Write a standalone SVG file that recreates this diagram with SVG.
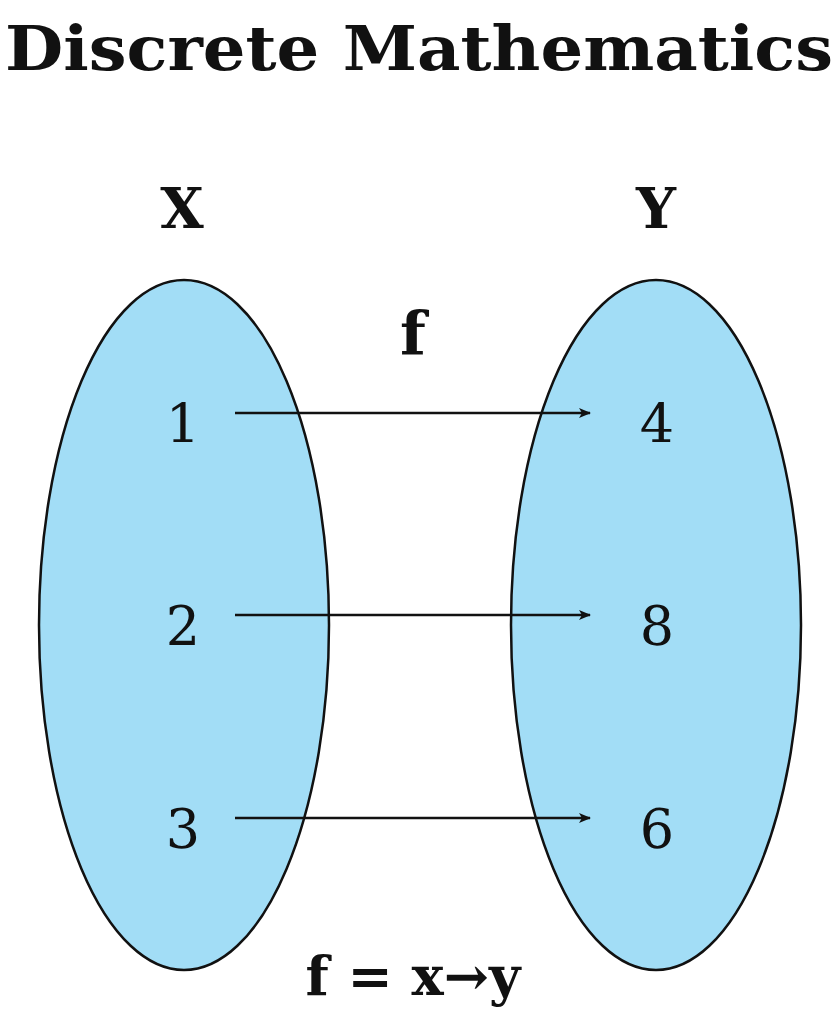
<svg xmlns="http://www.w3.org/2000/svg" width="839" height="1024" viewBox="0 0 839 1024">
<style>
.t{font-family:"DejaVu Serif","Liberation Serif",serif;fill:#111;text-anchor:middle}
.b{font-weight:bold}
.set{fill:#A2DDF6;stroke:#111;stroke-width:2.5}
.c{stroke:#111;stroke-width:2.5;fill:none;marker-end:url(#ah)}
</style>
<defs><marker id="ah" markerWidth="12" markerHeight="10" refX="11" refY="5" orient="auto" markerUnits="userSpaceOnUse" viewBox="0 0 12 10"><path d="M0,0 L12,5 L0,10 L3,5 Z" fill="#111"/></marker></defs>
<rect width="839" height="1024" fill="#fff"/>
<text class="t b" x="419" y="70" font-size="62" textLength="828" lengthAdjust="spacingAndGlyphs">Discrete Mathematics</text>
<g id="setX"><ellipse class="set" cx="184" cy="625" rx="145" ry="345"/><text class="t b" x="182" y="228" font-size="56">X</text></g>
<g id="setY"><ellipse class="set" cx="656" cy="625" rx="145" ry="345"/><text class="t b" x="656" y="228" font-size="56">Y</text></g>
<text class="t b" x="413" y="355" font-size="60">f</text>
<g id="n1"><text class="t" x="183" y="443" font-size="54">1</text></g>
<g id="n2"><text class="t" x="183" y="645" font-size="54">2</text></g>
<g id="n3"><text class="t" x="183" y="848" font-size="54">3</text></g>
<g id="n4"><text class="t" x="657" y="443" font-size="54">4</text></g>
<g id="n8"><text class="t" x="657" y="645" font-size="54">8</text></g>
<g id="n6"><text class="t" x="657" y="848" font-size="54">6</text></g>
<g id="connectors">
<line class="c" x1="235" y1="413" x2="590" y2="413"/>
<line class="c" x1="235" y1="615" x2="590" y2="615"/>
<line class="c" x1="235" y1="818" x2="590" y2="818"/>
</g>
<text class="t b" x="413" y="995" font-size="54">f = x→y</text>
</svg>
